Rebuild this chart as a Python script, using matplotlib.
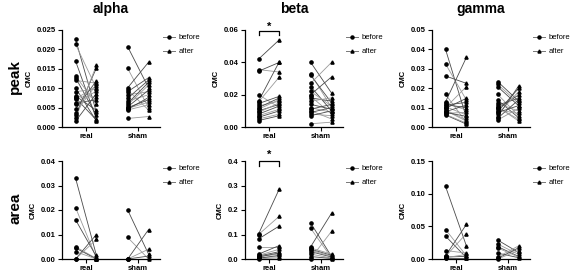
import matplotlib
matplotlib.use("Agg")
import matplotlib.pyplot as plt
from matplotlib.lines import Line2D

plt.rcParams['font.family'] = ['Liberation Sans', 'DejaVu Sans']

# ---- data ----
groups = ['real', 'sham']
bands = ['alpha', 'beta', 'gamma']
measures = ['peak', 'area']

# peak
alpha_peak_real_before = [0.0226, 0.0213, 0.0170, 0.0131, 0.0127, 0.0120, 0.0101, 0.0091, 0.0080, 0.0077,
                          0.0075, 0.0072, 0.0062, 0.0058, 0.0046, 0.0037, 0.0031, 0.0022, 0.0015]
alpha_peak_real_after = [0.0038, 0.0100, 0.0021, 0.0060, 0.0030, 0.0113, 0.0015, 0.0098, 0.0043, 0.0078,
                         0.0018, 0.0106, 0.0070, 0.0093, 0.0119, 0.0110, 0.0152, 0.0159, 0.0086]
alpha_peak_sham_before = [0.0207, 0.0151, 0.0101, 0.0095, 0.0091, 0.0083, 0.0074, 0.0067, 0.0061, 0.0057,
                          0.0052, 0.0048, 0.0046, 0.0044, 0.0050, 0.0022]
alpha_peak_sham_after = [0.0101, 0.0050, 0.0167, 0.0044, 0.0127, 0.0091, 0.0121, 0.0083, 0.0115, 0.0108,
                         0.0095, 0.0064, 0.0076, 0.0057, 0.0070, 0.0027]

beta_peak_real_before = [0.042, 0.0355, 0.0345, 0.020, 0.016, 0.0155, 0.0145, 0.013, 0.012, 0.011,
                         0.010, 0.009, 0.008, 0.007, 0.006, 0.005, 0.004]
beta_peak_real_after = [0.054, 0.034, 0.040, 0.012, 0.0405, 0.031, 0.019, 0.016, 0.018, 0.017,
                        0.014, 0.015, 0.013, 0.011, 0.010, 0.008, 0.007]
beta_peak_sham_before = [0.040, 0.033, 0.032, 0.027, 0.025, 0.022, 0.020, 0.019, 0.018, 0.016,
                         0.014, 0.012, 0.011, 0.010, 0.009, 0.008, 0.007, 0.002]
beta_peak_sham_after = [0.021, 0.012, 0.015, 0.040, 0.010, 0.013, 0.031, 0.008, 0.016, 0.018,
                        0.011, 0.009, 0.014, 0.005, 0.012, 0.007, 0.010, 0.003]

gamma_peak_real_before = [0.040, 0.0325, 0.0263, 0.0168, 0.013, 0.0122, 0.0113, 0.0105, 0.0096, 0.0088,
                          0.0079, 0.0070, 0.0062, 0.0100, 0.0115, 0.0085, 0.0075, 0.0065]
gamma_peak_real_after = [0.0048, 0.0139, 0.0225, 0.0024, 0.0359, 0.0088, 0.0127, 0.0062, 0.0148, 0.0036,
                         0.0113, 0.0076, 0.0015, 0.0208, 0.0100, 0.0030, 0.0055, 0.0020]
gamma_peak_sham_before = [0.0234, 0.0220, 0.0208, 0.0168, 0.0139, 0.0122, 0.0113, 0.0105, 0.0096, 0.0088,
                          0.0079, 0.0065, 0.0053, 0.0036, 0.0045, 0.0100, 0.0075]
gamma_peak_sham_after = [0.0134, 0.0122, 0.0110, 0.0058, 0.0048, 0.0082, 0.0148, 0.0031, 0.0165, 0.0070,
                         0.0199, 0.0182, 0.0211, 0.0096, 0.0140, 0.0040, 0.0110]

# area
alpha_area_real_before = [0.033, 0.021, 0.016, 0.005, 0.0045, 0.003, 0.0, 0.0]
alpha_area_real_after = [0.0015, 0.0003, 0.001, 0.0002, 0.0, 0.0, 0.010, 0.008]
alpha_area_sham_before = [0.020, 0.0088, 0.0, 0.0, 0.0]
alpha_area_sham_after = [0.002, 0.0, 0.012, 0.004, 0.0012]

beta_area_real_before = [0.102, 0.100, 0.082, 0.048, 0.020, 0.015, 0.012, 0.010, 0.008, 0.005, 0.003, 0.001]
beta_area_real_after = [0.287, 0.175, 0.135, 0.048, 0.055, 0.040, 0.030, 0.020, 0.025, 0.010, 0.015, 0.005]
beta_area_sham_before = [0.147, 0.125, 0.050, 0.045, 0.040, 0.035, 0.030, 0.020, 0.010, 0.002]
beta_area_sham_after = [0.010, 0.005, 0.187, 0.020, 0.015, 0.012, 0.008, 0.004, 0.002, 0.113]

gamma_area_real_before = [0.111, 0.045, 0.035, 0.013, 0.005, 0.004, 0.003, 0.002, 0.001]
gamma_area_real_after = [0.020, 0.005, 0.002, 0.009, 0.053, 0.039, 0.004, 0.007, 0.001]
gamma_area_sham_before = [0.029, 0.023, 0.019, 0.017, 0.009, 0.003, 0.001, 0.0]
gamma_area_sham_after = [0.010, 0.007, 0.004, 0.003, 0.002, 0.020, 0.017, 0.013]

data = {
    ('peak', 'alpha'): [(alpha_peak_real_before, alpha_peak_real_after), (alpha_peak_sham_before, alpha_peak_sham_after)],
    ('peak', 'beta'): [(beta_peak_real_before, beta_peak_real_after), (beta_peak_sham_before, beta_peak_sham_after)],
    ('peak', 'gamma'): [(gamma_peak_real_before, gamma_peak_real_after), (gamma_peak_sham_before, gamma_peak_sham_after)],
    ('area', 'alpha'): [(alpha_area_real_before, alpha_area_real_after), (alpha_area_sham_before, alpha_area_sham_after)],
    ('area', 'beta'): [(beta_area_real_before, beta_area_real_after), (beta_area_sham_before, beta_area_sham_after)],
    ('area', 'gamma'): [(gamma_area_real_before, gamma_area_real_after), (gamma_area_sham_before, gamma_area_sham_after)],
}

# y ticks per panel
yticks = {
    ('peak', 'alpha'): ([0, 0.005, 0.010, 0.015, 0.020, 0.025], '%.3f'),
    ('peak', 'beta'): ([0, 0.02, 0.04, 0.06], '%.2f'),
    ('peak', 'gamma'): ([0, 0.01, 0.02, 0.03, 0.04, 0.05], '%.2f'),
    ('area', 'alpha'): ([0, 0.01, 0.02, 0.03, 0.04], '%.2f'),
    ('area', 'beta'): ([0, 0.1, 0.2, 0.3, 0.4], '%.1f'),
    ('area', 'gamma'): ([0, 0.05, 0.10, 0.15], '%.2f'),
}

# significance brackets: (bracket y, leg bottom y, star y)
signif = {
    ('peak', 'beta'): (0.0594, 0.0572, 0.0620),
    ('area', 'beta'): (0.400, 0.380, 0.425),
}

W, H = 575, 272
fig = plt.figure(figsize=(W / 100, H / 100), dpi=100)

lefts = [62, 245, 432]
row_box = {'peak': (30, 127), 'area': (161, 259)}
ax_w = 98
off = 0.2
line_cols = ['#4a4a4a', '#9a9a9a']

for m in measures:
    top, bot = row_box[m]
    for j, b in enumerate(bands):
        ax = fig.add_axes([lefts[j] / W, 1 - bot / H, ax_w / W, (bot - top) / H])
        pairs = data[(m, b)]
        for g, (bef, aft) in enumerate(pairs):
            for k, (v0, v1) in enumerate(zip(bef, aft)):
                ax.plot([g - off, g + off], [v0, v1], color=line_cols[k % 2], lw=0.6,
                        zorder=2, clip_on=False)
            ax.plot([g - off] * len(bef), bef, 'o', color='black', ms=2.3, zorder=3, clip_on=False)
            ax.plot([g + off] * len(aft), aft, '^', color='black', ms=2.3, zorder=3, clip_on=False)

        ticks, fmt = yticks[(m, b)]
        ax.set_ylim(0, ticks[-1])
        ax.set_yticks(ticks)
        ax.set_yticklabels([fmt % t for t in ticks])
        ax.set_xlim(-0.46, 1.42)
        ax.set_xticks([0, 1])
        ax.set_xticklabels(groups)
        for s in ['top', 'right']:
            ax.spines[s].set_visible(False)
        for s in ['left', 'bottom']:
            ax.spines[s].set_linewidth(0.9)
        ax.tick_params(length=3, width=0.8, labelsize=5.5, pad=1.5)
        for lab in ax.get_xticklabels() + ax.get_yticklabels():
            lab.set_fontweight('bold')
        ax.set_ylabel('CMC', fontsize=5.5, fontweight='bold', labelpad=3)

        if (m, b) in signif:
            yb, yl, ys = signif[(m, b)]
            ax.plot([-off, -off, off, off], [yl, yb, yb, yl], color='black', lw=0.9, clip_on=False)
            ax.text(0, ys, '*', ha='center', va='center', fontsize=8, fontweight='bold')

        handles = [Line2D([], [], color='#777777', lw=0.7, marker='o', ms=2.2,
                          mfc='black', mec='black'),
                   Line2D([], [], color='#777777', lw=0.7, marker='^', ms=2.2,
                          mfc='black', mec='black')]
        ax.legend(handles, ['before', 'after'], loc='upper left', bbox_to_anchor=(1.03, 0.96),
                  frameon=False, fontsize=5.5, handlelength=1.6, handletextpad=0.5,
                  borderaxespad=0, borderpad=0, labelspacing=0.9)

        if m == 'peak':
            fig.text((lefts[j] + ax_w / 2) / W, 1 - 9 / H, b, ha='center', va='center',
                     fontsize=10, fontweight='bold')

fig.text(15 / W, 1 - 77 / H, 'peak', rotation=90, ha='center', va='center', fontsize=11, fontweight='bold')
fig.text(15 / W, 1 - 208 / H, 'area', rotation=90, ha='center', va='center', fontsize=11, fontweight='bold')

fig.savefig('out.png', dpi=100)
